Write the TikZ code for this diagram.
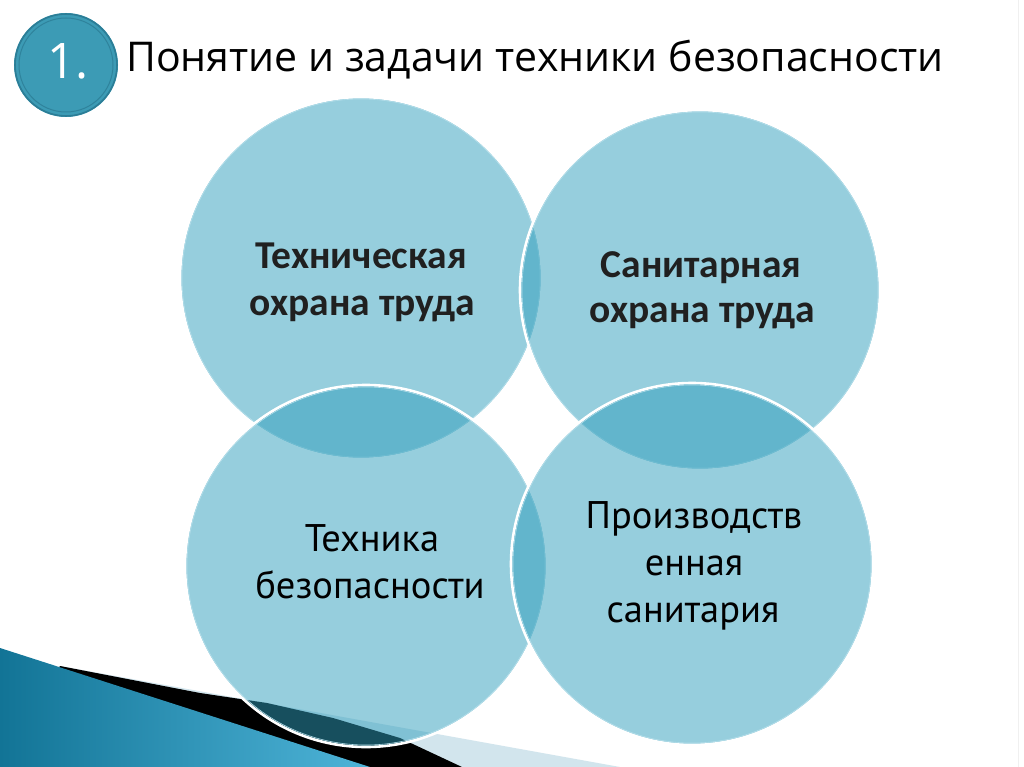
\documentclass[tikz,border=0pt]{standalone}
\usepackage{fontspec}
\setmainfont{PT Sans}
\newfontfamily\titlefont{Open Sans}
\newfontfamily\headfont{Carlito}
\definecolor{circfill}{RGB}{47,158,188}
\definecolor{circline}{RGB}{180,222,234}
\definecolor{badgefill}{RGB}{60,155,181}
\definecolor{badgeedge}{RGB}{44,125,150}
\definecolor{bandblueL}{RGB}{18,116,150}
\definecolor{bandblueR}{RGB}{78,180,216}
\definecolor{bandpale}{RGB}{210,229,237}
\definecolor{headtext}{RGB}{32,32,32}
\tikzset{
  bubble/.style={fill=circfill, fill opacity=0.5, draw=white, draw opacity=1, line width=2.6pt},
  bubbleinner/.style={draw=circline, line width=0.6pt},
  headlbl/.style={font=\headfont\bfseries\fontsize{39.5}{46}\selectfont, text=headtext, anchor=base, inner sep=0pt},
  bodylbl/.style={font=\fontsize{38.5}{46}\selectfont, text=black, anchor=base, inner sep=0pt},
}
\begin{document}
\begin{tikzpicture}[x=1pt,y=-1pt]
\useasboundingbox (0,0) rectangle (1024,767);
\fill[white] (0,0) rectangle (1024,767);
\draw[black!6, line width=0.8pt] (1018,0) -- (1018,767);
% bottom-left decoration
\fill[bandpale] (60,666) -- (620,767) -- (0,767) -- cycle;
\fill[black] (60,666) -- (200,693) -- (267,703) -- (333,718) -- (400,738) -- (462,767) -- (0,767) -- cycle;
\shade[left color=bandblueL, right color=bandblueR] (0,648) -- (370,767) -- (0,767) -- cycle;
% circles
\coordinate (ctl) at (361,278);
\coordinate (ctr) at (700,290);
\coordinate (cbl) at (366,566);
\coordinate (cbr) at (692,564);
\path[bubble] (ctl) circle (181pt);
\draw[bubbleinner] (ctl) circle (179pt);
\path[bubble] (ctr) circle (180pt);
\draw[bubbleinner] (ctr) circle (178pt);
\path[bubble] (cbl) circle (181pt);
\draw[bubbleinner] (cbl) circle (179pt);
\path[bubble] (cbr) circle (181pt);
\draw[bubbleinner] (cbr) circle (179pt);
% labels
\node[headlbl] (tl1) at (361,268) {Техническая};
\node[headlbl] (tl2) at (362,315) {охрана труда};
\node[headlbl] (tr1) at (701,277) {Санитарная};
\node[headlbl] (tr2) at (702,322) {охрана труда};
\node[bodylbl] (bl1) at (372,551) {Техника};
\node[bodylbl] (bl2) at (370,598) {безопасности};
\node[bodylbl] (br1) at (694,528) {Производств};
\node[bodylbl] (br2) at (694,575) {енная};
\node[bodylbl] (br3) at (693,622) {санитария};
% badge
\coordinate (cbadge) at (66,65);
\fill[badgefill] (cbadge) circle (52pt);
\draw[badgeedge, line width=1.6pt] (cbadge) circle (51pt);
\draw[badgeedge!80!badgefill, line width=1pt] (cbadge) circle (47pt);
\node[font=\titlefont\fontsize{49}{50}\selectfont, text=white, anchor=base, inner sep=0pt] (num) at (68,79) {1.};
% title
\node[font=\titlefont\fontsize{41}{48}\selectfont, text=black, anchor=base west, inner sep=0pt] (title) at (126,72) {Понятие и задачи техники безопасности};
\end{tikzpicture}
\end{document}
